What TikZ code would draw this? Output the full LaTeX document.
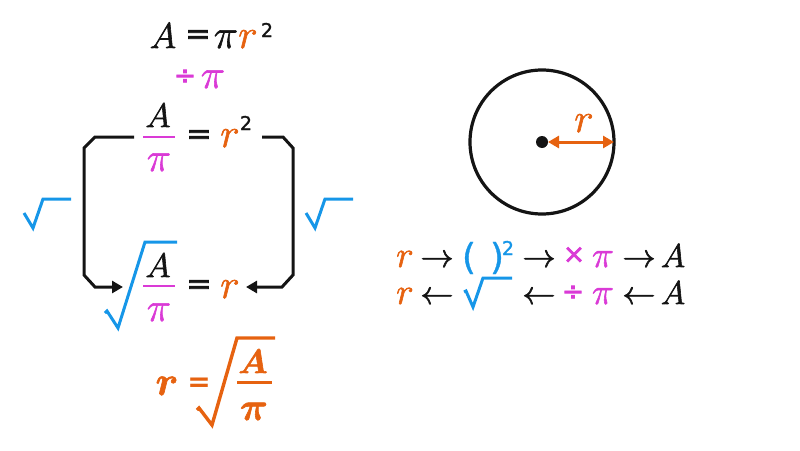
\RequirePackage{fix-cm}
\documentclass[tikz,border=0pt]{standalone}
\usepackage{amsmath}
\usepackage{bm}
\usepackage{fontspec}
\newfontfamily\dv{DejaVu Sans}
\usetikzlibrary{arrows.meta}
\definecolor{orng}{RGB}{230,98,16}
\definecolor{mag}{RGB}{218,58,214}
\definecolor{blu}{RGB}{22,150,232}
\definecolor{ink}{RGB}{20,20,20}
\newcommand\fsz[1]{\fontsize{#1}{#1}\selectfont}
\newcommand\hv[1]{\special{pdf:literal direct 2 Tr 0.6 w}#1\special{pdf:literal direct 0 Tr}}
\newcommand\hs[1]{\special{pdf:literal direct 2 Tr 0.8 w}#1\special{pdf:literal direct 0 Tr}}
\newcommand\hl[1]{\special{pdf:literal direct 2 Tr 0.3 w}#1\special{pdf:literal direct 0 Tr}}
\begin{document}
\begin{tikzpicture}[x=1pt,y=-1pt,
  every node/.style={inner sep=0pt,outer sep=0pt,text=ink},
  big/.style={anchor=base,font=\fsz{36}},
  lo/.style={anchor=base,font=\fsz{41}},
  mid/.style={anchor=base,font=\fsz{34}},
  rt/.style={anchor=base,font=\fsz{33}},
  rtl/.style={anchor=base,font=\fsz{37}},
  eqs/.style={anchor=center,font=\dv\fsz{30}},
  sup/.style={anchor=base,font=\dv\fsz{19}},
  ops/.style={anchor=center,font=\dv\fsz{26}},
  pars/.style={anchor=center,font=\dv\fsz{36}},
  rad/.style={line width=3pt,line join=miter,line cap=butt},
  fbar/.style={line width=2.6pt},
  brk/.style={line width=3pt,draw=ink,-{Triangle[length=11pt,width=12pt]}},
]
\useasboundingbox (0,0) rectangle (800,450);

% top formula A = pi r^2
\node[big] (tA) at (163,48) {\hv{$A$}};
\node[eqs] (tEq) at (198,37) {\hs{=}};
\node[lo] (tPi) at (226,48) {\hv{$\pi$}};
\node[lo,text=orng] (tR) at (248,48) {\hv{$r$}};
\node[sup] (t2) at (267,37) {\hl{2}};

% divide by pi
\node[ops,text=mag] (dDiv) at (185,77) {\hs{÷}};
\node[lo,text=mag] (dPi) at (213,88) {\hv{$\pi$}};

% A/pi = r^2
\node[mid] (fA) at (158,127) {\hv{$A$}};
\draw[fbar,mag] (143,137) -- (175,137);
\node[lo,text=mag] (fPi) at (159,171) {\hv{$\pi$}};
\node[eqs] (fEq) at (199,137) {\hs{=}};
\node[lo,text=orng] (fR) at (230,147) {\hv{$r$}};
\node[sup] (f2) at (246,130) {\hl{2}};

% sqrt(A/pi) = r
\draw[rad,blu] (105,313) -- (107,311) -- (118,328) -- (145,242) -- (177,242);
\node[mid] (sA) at (158,277) {\hv{$A$}};
\draw[fbar,mag] (143,286) -- (175,286);
\node[lo,text=mag] (sPi) at (159,321) {\hv{$\pi$}};
\node[eqs] (sEq) at (199,287) {\hs{=}};
\node[lo,text=orng] (sR) at (230,298) {\hv{$r$}};

% brackets
\coordinate (L0) at (134,137);
\coordinate (L1) at (123,287);
\coordinate (R0) at (262,137);
\coordinate (R1) at (246,287);
\draw[brk] (L0) -- (95,137) -- (84,148) -- (84,275) -- (95,287) -- (L1);
\draw[brk] (R0) -- (283,137) -- (293,148) -- (293,275) -- (282,287) -- (R1);

% side root signs
\draw[rad,blu] (24,213) -- (33,228) -- (43,199) -- (71,199);
\draw[rad,blu] (306,213) -- (315,228) -- (325,199) -- (353,199);

% final r = sqrt(A/pi)
\node[anchor=base,font=\fsz{41},text=orng] (bR) at (167,395) {\hv{$\bm{r}$}};
\node[eqs,font=\dv\bfseries\fsz{28},text=orng] (bEq) at (199,385) {=};
\draw[rad,orng,line width=3.4pt] (197,410) -- (199,408) -- (212,425) -- (237,338) -- (275,338);
\node[anchor=base,font=\fsz{34},text=orng] (bA) at (253,373) {\hv{$\bm{A}$}};
\draw[fbar,orng,line width=3pt] (237,382) -- (272,382);
\node[anchor=base,font=\fsz{39},text=orng] (bPi) at (254,420) {\hv{$\bm{\pi}$}};

% circle
\node[circle,draw=ink,line width=3.2pt,minimum size=144pt] (circ) at (542,142) {};
\node[circle,fill=ink,minimum size=12pt] (ctr) at (542,142) {};
\coordinate (rim) at (614,142);
\draw[line width=3pt,orng,{Triangle[length=11pt,width=12pt]}-{Triangle[length=11pt,width=12pt]}] (ctr.east) -- (rim);
\node[lo,text=orng] (cR) at (584,132) {\hv{$r$}};

% row 1
\node[rtl,text=orng] (a1) at (405,267) {\hv{$r$}};
\node[rt] (a2) at (437,267) {\hv{$\rightarrow$}};
\node[pars,text=blu] (a3) at (469,258) {\hl{(}};
\node[pars,text=blu] (a4) at (497,258) {\hl{)}};
\node[sup,text=blu] (a5) at (508,255) {\hl{2}};
\node[rt] (a6) at (539,267) {\hv{$\rightarrow$}};
\node[ops,text=mag] (a7) at (574,255) {\hs{×}};
\node[rtl,text=mag] (a8) at (603,267) {\hv{$\pi$}};
\node[rt] (a9) at (639,267) {\hv{$\rightarrow$}};
\node[rt] (a10) at (673,267) {\hv{$A$}};

% row 2
\node[rtl,text=orng] (b1) at (405,304) {\hv{$r$}};
\node[rt] (b2) at (437,304) {\hv{$\leftarrow$}};
\draw[rad,blu] (464,292) -- (466,291) -- (473,307) -- (483,278) -- (512,278);
\node[rt] (b6) at (539,304) {\hv{$\leftarrow$}};
\node[ops,text=mag] (b7) at (573,293) {\hs{÷}};
\node[rtl,text=mag] (b8) at (603,304) {\hv{$\pi$}};
\node[rt] (b9) at (639,304) {\hv{$\leftarrow$}};
\node[rt] (b10) at (673,304) {\hv{$A$}};
\end{tikzpicture}
\end{document}
